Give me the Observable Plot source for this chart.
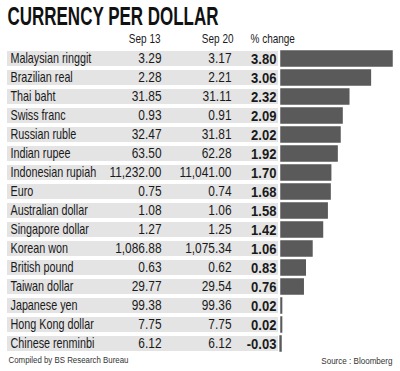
<!DOCTYPE html>
<html>
<head>
<meta charset="utf-8">
<script src="https://cdn.jsdelivr.net/npm/d3@7"></script>
<script src="https://cdn.jsdelivr.net/npm/@observablehq/plot@0.6"></script>
<style>
  html, body { margin: 0; padding: 0; background: #fff; }
  svg { display: block; }
</style>
</head>
<body>
<div id="chart"></div>
<script>
const title = "CURRENCY PER DOLLAR";
const headers = ["Sep 13", "Sep 20", "% change"];
const currencies = ["Malaysian ringgit", "Brazilian real", "Thai baht", "Swiss franc", "Russian ruble", "Indian rupee", "Indonesian rupiah", "Euro", "Australian dollar", "Singapore dollar", "Korean won", "British pound", "Taiwan dollar", "Japanese yen", "Hong Kong dollar", "Chinese renminbi"];
const sep13 = [3.29, 2.28, 31.85, 0.93, 32.47, 63.50, 11232.00, 0.75, 1.08, 1.27, 1086.88, 0.63, 29.77, 99.38, 7.75, 6.12];
const sep20 = [3.17, 2.21, 31.11, 0.91, 31.81, 62.28, 11041.00, 0.74, 1.06, 1.25, 1075.34, 0.62, 29.54, 99.36, 7.75, 6.12];
const pctChange = [3.80, 3.06, 2.32, 2.09, 2.02, 1.92, 1.70, 1.68, 1.58, 1.42, 1.06, 0.83, 0.76, 0.02, 0.02, -0.03];
const credit = "Compiled by BS Research Bureau";
const source = "Source : Bloomberg";

const rows = currencies.map((name, i) => ({name, a: sep13[i], b: sep20[i], c: pctChange[i]}));
const fmt = d3.format(",.2f");
const fmtc = v => d3.format(".2f")(v).replace("\u2212", "-");

const body = "'Liberation Sans', Arial, sans-serif";
const ink = "#1a1a1a";

const svg = Plot.plot({
  width: 400,
  height: 371,
  marginTop: 48,
  marginBottom: 16.5,
  marginLeft: 7,
  marginRight: 8,
  style: {fontFamily: body, color: ink, background: "#fff"},
  x: {domain: [0, 3.8], range: [281, 392], axis: null},
  y: {domain: currencies, axis: null, paddingInner: 0.2, paddingOuter: 0.1},
  marks: [
    Plot.cell(rows, {y: "name", fill: "#e4e4e4", insetRight: 114}),
    Plot.barX(rows, {x: "c", y: "name", fill: "#5a5a5a", stroke: "#5a5a5a", strokeWidth: 1.5}),
    Plot.text(rows, {y: "name", text: "name", frameAnchor: "left", dx: 3, textAnchor: "start", fontSize: 14, fill: ink, ariaDescription: "names"}),
    Plot.text(rows, {y: "name", text: d => fmt(d.a), frameAnchor: "left", dx: 154, textAnchor: "end", fontSize: 14, fill: ink, ariaDescription: "nums"}),
    Plot.text(rows, {y: "name", text: d => fmt(d.b), frameAnchor: "left", dx: 224, textAnchor: "end", fontSize: 14, fill: ink, ariaDescription: "nums"}),
    Plot.text(rows, {y: "name", text: d => fmtc(d.c), frameAnchor: "left", dx: 269, textAnchor: "end", fontSize: 14.5, fontWeight: "bold", fill: ink, ariaDescription: "pct"}),
    Plot.text([headers[0]], {text: d => d, frameAnchor: "top-left", dx: 153, dy: -14, textAnchor: "end", fontSize: 12.5, fill: ink, ariaDescription: "hdr"}),
    Plot.text([headers[1]], {text: d => d, frameAnchor: "top-left", dx: 226, dy: -14, textAnchor: "end", fontSize: 12.5, fill: ink, ariaDescription: "hdr"}),
    Plot.text([headers[2]], {text: d => d, frameAnchor: "top-left", dx: 243, dy: -14, textAnchor: "start", fontSize: 12.5, fill: ink, ariaDescription: "hdr"}),
    Plot.text([title], {text: d => d, frameAnchor: "top-left", dx: 0, dy: -41, textAnchor: "start", fontSize: 25, fontWeight: "bold", fill: "#111", ariaDescription: "chart-title"}),
    Plot.text([credit], {text: d => d, frameAnchor: "bottom-left", dx: 1, dy: 8, textAnchor: "start", fontSize: 9.5, fill: "#333", ariaDescription: "credit"}),
    Plot.text([source], {text: d => d, frameAnchor: "bottom-right", dx: 0, dy: 8.5, textAnchor: "end", fontSize: 9.5, fill: "#333", ariaDescription: "source"})
  ]
});

const groups = Array.from(svg.children).filter(n => n.tagName.toLowerCase() === "g");
const order = ["cell", "bar", "names", "nums", "nums", "pct", "hdr", "hdr", "hdr", "chart-title", "credit", "source"];
function groupsFor(label) {
  const byDesc = groups.filter(g => g.getAttribute("aria-description") === label);
  if (byDesc.length) return byDesc;
  return groups.filter((g, i) => order[i] === label);
}
// horizontal condensing around each text's anchor; vertical attributes are left as they are
function squeeze(label, s) {
  groupsFor(label).forEach(g => {
    g.querySelectorAll("text").forEach(el => {
      const t = el.getAttribute("transform") || "";
      const x = parseFloat(el.getAttribute("x")) || 0;
      el.removeAttribute("x");
      el.setAttribute("transform", `${t} translate(${x},0) scale(${s},1)`);
    });
  });
}
squeeze("names", 0.77);
squeeze("nums", 0.85);
squeeze("pct", 0.9);
squeeze("hdr", 0.8);
squeeze("credit", 0.83);
squeeze("source", 0.85);

groupsFor("chart-title").forEach(g => g.querySelectorAll("text").forEach(el => {
  el.setAttribute("textLength", 211);
  el.setAttribute("lengthAdjust", "spacingAndGlyphs");
}));

document.getElementById("chart").appendChild(svg);
</script>
</body>
</html>
